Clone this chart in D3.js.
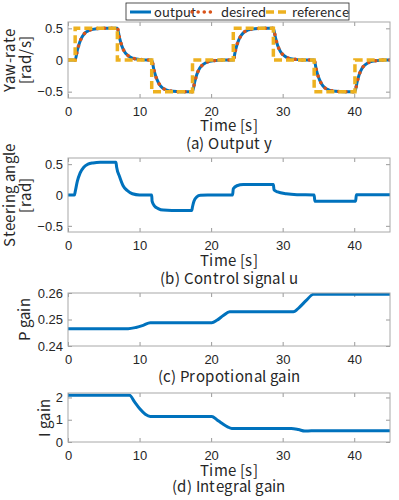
<!DOCTYPE html>
<html>
<head>
<meta charset="utf-8">
<script src="https://cdn.jsdelivr.net/npm/d3@7"></script>
<style>
  @font-face {
    font-family: "JPTight";
    src: local("Noto Sans CJK JP"), local("Noto Sans CJK JP Regular"),
         local("NotoSansCJKjp-Regular"), local("NotoSansCJKJP-Regular");
    ascent-override: 86%;
    descent-override: 12%;
    line-gap-override: 0%;
  }
  body { margin: 0; background: #fff; }
  svg { font-family: "JPTight", "Noto Sans CJK JP", "Noto Sans", sans-serif; }
  .tick text { fill: #262626; font-size: 13px; }
  .tick line { stroke: #9a9a9a; }
  .lbl { letter-spacing: 0.4px; }
</style>
</head>
<body>
<div id="chart"></div>
<script>
// (a) yaw-rate: output, desired and reference
const outT = [0, 1, 1.3, 1.6, 2.0, 2.5, 3.0, 4.0, 5.0, 6.9,
  7.2, 7.5, 7.9, 8.4, 9.0, 10.0, 11.0, 11.7,
  12.0, 12.3, 12.7, 13.2, 13.7, 14.7, 15.7, 17.4,
  17.7, 18.0, 18.4, 18.9, 19.5, 20.5, 21.5, 23.1,
  23.4, 23.7, 24.1, 24.6, 25.1, 26.1, 27.1, 28.7,
  29.0, 29.3, 29.7, 30.2, 30.8, 31.8, 32.8, 34.4,
  34.7, 35.0, 35.4, 35.9, 36.4, 37.4, 38.4, 40.1,
  40.4, 40.7, 41.1, 41.6, 42.2, 43.2, 44.0, 45];
const outY = [0, 0, 0.15, 0.27, 0.37, 0.44, 0.47, 0.495, 0.5, 0.5,
  0.35, 0.23, 0.13, 0.07, 0.03, 0.01, 0, 0,
  -0.15, -0.27, -0.37, -0.44, -0.47, -0.495, -0.5, -0.5,
  -0.35, -0.23, -0.13, -0.07, -0.03, -0.01, 0, 0,
  0.15, 0.27, 0.37, 0.44, 0.47, 0.495, 0.5, 0.5,
  0.35, 0.23, 0.13, 0.07, 0.03, 0.01, 0, 0,
  -0.15, -0.27, -0.37, -0.44, -0.47, -0.495, -0.5, -0.5,
  -0.35, -0.23, -0.13, -0.07, -0.03, -0.01, 0, 0];
const desY = [0, 0, 0.15, 0.27, 0.37, 0.44, 0.47, 0.495, 0.5, 0.5,
  0.35, 0.23, 0.13, 0.07, 0.03, 0.01, 0, 0,
  -0.15, -0.27, -0.37, -0.44, -0.47, -0.495, -0.5, -0.5,
  -0.35, -0.23, -0.13, -0.07, -0.03, -0.01, 0, 0,
  0.15, 0.27, 0.37, 0.44, 0.47, 0.495, 0.5, 0.5,
  0.35, 0.23, 0.13, 0.07, 0.03, 0.01, 0, 0,
  -0.15, -0.27, -0.37, -0.44, -0.47, -0.495, -0.5, -0.5,
  -0.35, -0.23, -0.13, -0.07, -0.03, -0.01, 0, 0];
const refT = [0, 1, 1, 6.9, 6.9, 11.7, 11.7, 17.4, 17.4, 23.1, 23.1, 28.7, 28.7, 34.4, 34.4, 40.1, 40.1, 45];
const refY = [0, 0, 0.5, 0.5, 0, 0, -0.5, -0.5, 0, 0, 0.5, 0.5, 0, 0, -0.5, -0.5, 0, 0];

// (b) steering angle u
const uT = [0, 0.9, 1.0, 1.3, 1.7, 2.2, 2.8, 3.5, 4.5, 6.7,
  6.8, 7.2, 7.7, 8.3, 9.0, 10.0, 11.7,
  11.75, 12.1, 12.6, 13.3, 14.5, 17.3,
  17.4, 17.6, 18.0, 18.5, 19.5, 23.0,
  23.1, 23.6, 24.5, 28.7,
  28.8, 29.3, 30.5, 32.0, 34.4,
  34.5, 40.2,
  40.3, 45];
const uY = [0, 0, 0.05, 0.22, 0.36, 0.45, 0.5, 0.52, 0.53, 0.53,
  0.45, 0.3, 0.15, 0.07, 0.02, 0, 0,
  -0.1, -0.18, -0.22, -0.245, -0.25, -0.25,
  -0.19, -0.1, -0.03, -0.005, 0, 0,
  0.1, 0.15, 0.17, 0.17,
  0.08, 0.05, 0.02, 0.005, 0,
  -0.1, -0.1,
  0.005, 0.005];

// (c) P gain
const pT = [0, 8.4, 9.5, 10.5, 11.5, 20.1, 20.8, 21.7, 22.6, 31.5, 32.3, 33.3, 34.3, 45];
const pY = [0.2465, 0.2465, 0.2470, 0.2478, 0.2488, 0.2488, 0.2497, 0.2515, 0.2529,
  0.2529, 0.2545, 0.2572, 0.2595, 0.2595];

// (d) I gain
const iT = [0, 8.6, 9.3, 10.0, 10.8, 11.5, 20.1, 20.8, 21.5, 22.3, 22.9, 31.2, 32.2, 33.1, 34.0, 45];
const iY = [2.1, 2.1, 1.8, 1.5, 1.25, 1.15, 1.15, 1.0, 0.84, 0.68, 0.61, 0.61, 0.56, 0.49, 0.5, 0.5];

const xTicks = [0, 10, 20, 30, 40];
const legendLabels = ['output', 'desired', 'reference'];

const W = 399, H = 500;
const BLUE = '#0072BD', RED = '#D95319', YELLOW = '#EDB120';

const svg = d3.select('#chart').append('svg')
  .attr('width', W).attr('height', H);

const x = d3.scaleLinear().domain([0, 45]).range([68, 390]);

function panel(cfg) {
  const y = d3.scaleLinear().domain(cfg.yDomain).range([cfg.bottom, cfg.top]);
  const g = svg.append('g');
  const id = 'clip-' + cfg.name;

  g.append('clipPath').attr('id', id).append('rect')
    .attr('x', x.range()[0]).attr('y', cfg.top)
    .attr('width', x.range()[1] - x.range()[0]).attr('height', cfg.bottom - cfg.top);

  // axes with inward ticks on all four sides
  g.append('g').attr('transform', `translate(0,${cfg.bottom})`)
    .call(d3.axisBottom(x).tickValues(xTicks).tickSizeInner(-4).tickSizeOuter(0).tickPadding(9))
    .call(a => a.select('.domain').remove());
  g.append('g').attr('transform', `translate(0,${cfg.top})`)
    .call(d3.axisTop(x).tickValues(xTicks).tickSizeInner(-4).tickSizeOuter(0).tickFormat(''))
    .call(a => a.select('.domain').remove());
  g.append('g').attr('transform', `translate(${x.range()[0]},0)`)
    .call(d3.axisLeft(y).tickValues(cfg.yTicks).tickFormat(cfg.yFormat).tickSizeInner(-4).tickSizeOuter(0).tickPadding(5))
    .call(a => a.select('.domain').remove());
  g.append('g').attr('transform', `translate(${x.range()[1]},0)`)
    .call(d3.axisRight(y).tickValues(cfg.yTicks).tickSizeInner(-4).tickSizeOuter(0).tickFormat(''))
    .call(a => a.select('.domain').remove());

  const plot = g.append('g').attr('clip-path', `url(#${id})`);
  cfg.series.forEach(s => {
    const pts = s.t.map((t, i) => [t, s.v[i]]);
    const line = d3.line().x(d => x(d[0])).y(d => y(d[1]))
      .curve(s.step ? d3.curveLinear : d3.curveMonotoneX);
    plot.append('path').datum(pts)
      .attr('d', line)
      .attr('fill', 'none')
      .attr('stroke', s.color)
      .attr('stroke-width', s.width)
      .attr('stroke-dasharray', s.dash || null)
      .attr('stroke-linecap', s.cap || 'butt');
  });

  g.append('rect')
    .attr('x', x.range()[0]).attr('y', cfg.top)
    .attr('width', x.range()[1] - x.range()[0]).attr('height', cfg.bottom - cfg.top)
    .attr('fill', 'none').attr('stroke', '#a8a8a8').attr('stroke-width', 1);

  cfg.ylabel.forEach(l => {
    g.append('text').attr('class', 'lbl')
      .attr('transform', `translate(${l.x},${(cfg.top + cfg.bottom) / 2}) rotate(-90)`)
      .attr('text-anchor', 'middle').attr('dy', '0.35em')
      .style('font-size', '15px').attr('fill', '#262626')
      .text(l.text);
  });

  const cx = (x.range()[0] + x.range()[1]) / 2;
  if (cfg.xlabel) {
    g.append('text').attr('class', 'lbl').attr('x', cx).attr('y', cfg.xlabelY)
      .attr('text-anchor', 'middle').style('font-size', '15px').attr('fill', '#262626')
      .text('Time [s]');
  }
  g.append('text').attr('class', 'lbl').attr('x', cx).attr('y', cfg.captionY)
    .attr('text-anchor', 'middle').style('font-size', '15px').attr('fill', '#262626')
    .text(cfg.caption);
}

const fmtHalf = d => d === 0 ? '0' : d3.format('.1f')(d);

panel({
  name: 'a', top: 22, bottom: 98, yDomain: [-0.6, 0.6], yTicks: [-0.5, 0, 0.5], yFormat: fmtHalf,
  series: [
    { t: outT, v: outY, color: BLUE, width: 3 },
    { t: outT, v: desY, color: RED, width: 3.5, dash: '0.1,7', cap: 'round' },
    { t: refT, v: refY, color: YELLOW, width: 3.5, dash: '8,4', step: true }
  ],
  ylabel: [{ x: 10, text: 'Yaw-rate' }, { x: 26, text: '[rad/s]' }],
  xlabel: true, xlabelY: 131, captionY: 149, caption: '(a) Output y'
});

panel({
  name: 'b', top: 158, bottom: 232, yDomain: [-0.6, 0.6], yTicks: [-0.5, 0, 0.5], yFormat: fmtHalf,
  series: [{ t: uT, v: uY, color: BLUE, width: 3 }],
  ylabel: [{ x: 10, text: 'Steering angle' }, { x: 26, text: '[rad]' }],
  xlabel: true, xlabelY: 266, captionY: 284, caption: '(b) Control signal u'
});

panel({
  name: 'c', top: 293, bottom: 346, yDomain: [0.24, 0.26], yTicks: [0.24, 0.25, 0.26], yFormat: d3.format('.2f'),
  series: [{ t: pT, v: pY, color: BLUE, width: 3 }],
  ylabel: [{ x: 25, text: 'P gain' }],
  xlabel: false, captionY: 382, caption: '(c) Propotional gain'
});

panel({
  name: 'd', top: 393, bottom: 442, yDomain: [0, 2.2], yTicks: [0, 1, 2], yFormat: d3.format('d'),
  series: [{ t: iT, v: iY, color: BLUE, width: 3 }],
  ylabel: [{ x: 45, text: 'I gain' }],
  xlabel: true, xlabelY: 476, captionY: 492, caption: '(d) Integral gain'
});

// legend
const leg = svg.append('g');
leg.append('rect').attr('x', 126).attr('y', 3).attr('width', 223).attr('height', 17)
  .attr('fill', '#fff').attr('stroke', '#262626').attr('stroke-width', 0.8);
const legItems = [
  { x0: 130, x1: 151, tx: 154, color: BLUE, width: 3 },
  { x0: 192, x1: 216, tx: 221, color: RED, width: 3.5, dash: '0.1,6', cap: 'round' },
  { x0: 266, x1: 289, tx: 292, color: YELLOW, width: 3.5, dash: '8,4' }
];
legItems.forEach((d, i) => {
  leg.append('line').attr('x1', d.x0).attr('x2', d.x1).attr('y1', 12).attr('y2', 12)
    .attr('stroke', d.color).attr('stroke-width', d.width)
    .attr('stroke-dasharray', d.dash || null).attr('stroke-linecap', d.cap || 'butt');
  leg.append('text').attr('x', d.tx).attr('y', 16.5)
    .style('font-size', '13px').attr('fill', '#262626')
    .text(legendLabels[i]);
});
</script>
</body>
</html>
